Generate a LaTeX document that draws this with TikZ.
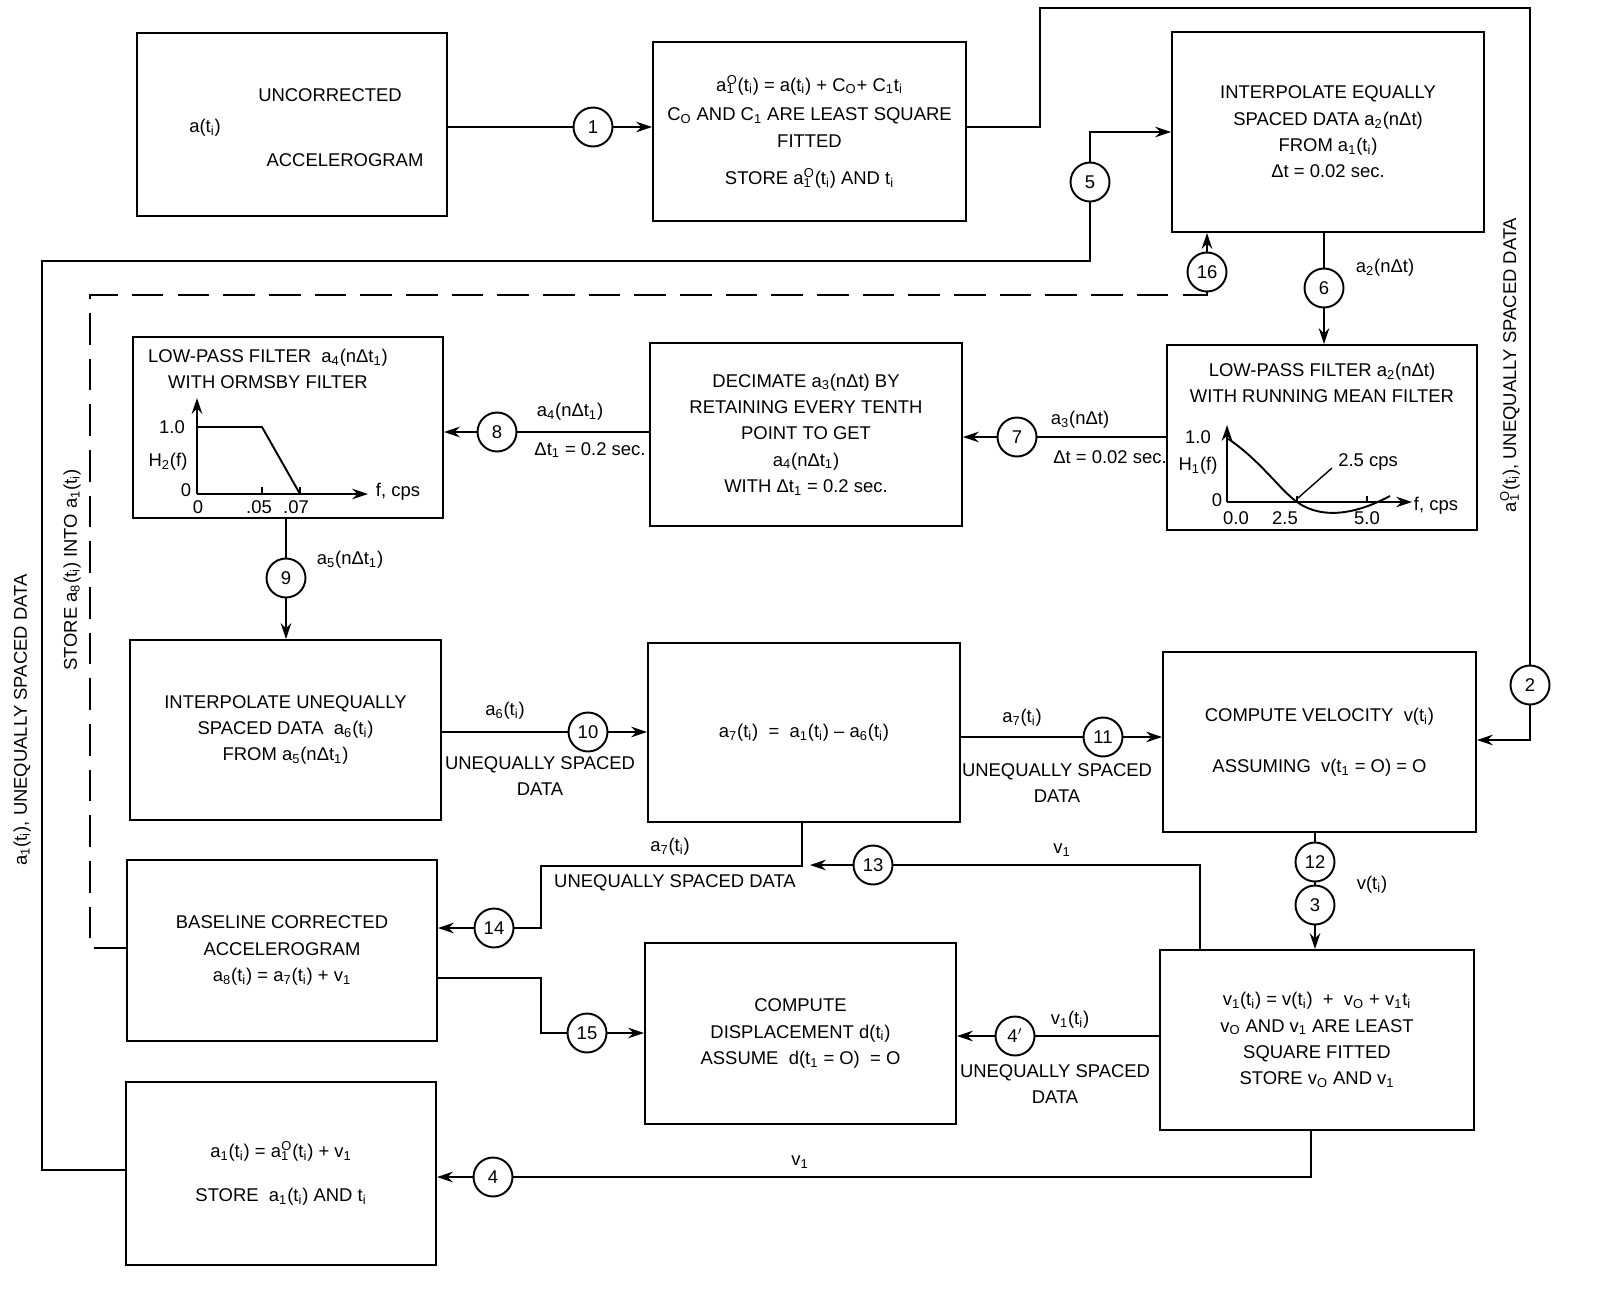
\documentclass[tikz,border=0pt]{standalone}
\usepackage{fontspec}
\setmainfont{Liberation Sans}
\usetikzlibrary{arrows.meta}
\newcommand{\sbx}[1]{\textsubscript{#1}}
\newcommand{\ao}{a\textsubscript{1}\kern-0.42em\textsuperscript{O}}
\begin{document}
\begin{tikzpicture}[x=0.02cm,y=-0.02cm,
  every node/.style={font=\fontsize{10.5}{15}\selectfont},
  box/.style 2 args={draw,line width=1.1pt,minimum width=#1*0.02cm,minimum height=#2*0.02cm,align=center,inner sep=2pt},
  cir/.style={draw,circle,line width=1.1pt,minimum size=0.78cm,inner sep=0pt},
  ln/.style={line width=1.1pt},
  ar/.style={line width=1.1pt,-{Stealth[length=9pt,width=6pt]}},
  lab/.style={inner sep=1pt,align=center}]
\useasboundingbox (0,0) rectangle (1598,1295);
% boxes
\node[box={310}{183}] (B1) at (292,124.5) {};
\node (t1a) at (205,128) {a(t\sbx{i})};
\node (t1b) at (330,95) {UNCORRECTED};
\node (t1c) at (345,160) {ACCELEROGRAM};
\node[box={313}{179}] (B2) at (809.5,131.5) {\ao(t\sbx{i}) = a(t\sbx{i}) + C\sbx{O}+ C\sbx{1}t\sbx{i}\\[2pt] C\sbx{O} AND C\sbx{1} ARE LEAST SQUARE\\ FITTED\\[6pt] STORE \ao(t\sbx{i}) AND t\sbx{i}};
\node[box={312}{200}] (B3) at (1328,132) {INTERPOLATE EQUALLY\\ SPACED DATA a\sbx{2}(nΔt)\\ FROM a\sbx{1}(t\sbx{i})\\ Δt = 0.02 sec.};
\node[box={310}{185}] (B4) at (1322,437.5) {};
\node[lab] (t4) at (1322,383) {LOW-PASS FILTER a\sbx{2}(nΔt)\\ WITH RUNNING MEAN FILTER};
\node[box={312}{183}] (B5) at (806,434.5) {DECIMATE a\sbx{3}(nΔt) BY\\ RETAINING EVERY TENTH\\ POINT TO GET\\ a\sbx{4}(nΔt\sbx{1})\\ WITH Δt\sbx{1} = 0.2 sec.};
\node[box={310}{181}] (B6) at (288,427.5) {};
\node[lab] (t6) at (268,369) {LOW-PASS FILTER\ \ a\sbx{4}(nΔt\sbx{1})\\ WITH ORMSBY FILTER};
\node[box={311}{180}] (B7) at (285.5,730) {INTERPOLATE UNEQUALLY\\ SPACED DATA\ \ a\sbx{6}(t\sbx{i})\\ FROM a\sbx{5}(nΔt\sbx{1})};
\node[box={312}{179}] (B8) at (804,732.5) {a\sbx{7}(t\sbx{i})\ \ =\ \ a\sbx{1}(t\sbx{i}) -- a\sbx{6}(t\sbx{i})};
\node[box={313}{180}] (B9) at (1319.5,742) {COMPUTE VELOCITY\ \ v(t\sbx{i})\\[14pt] ASSUMING\ \ v(t\sbx{1} = O) = O};
\node[box={310}{181}] (B10) at (282,950.5) {BASELINE CORRECTED\\ ACCELEROGRAM\\ a\sbx{8}(t\sbx{i}) = a\sbx{7}(t\sbx{i}) + v\sbx{1}};
\node[box={311}{181}] (B11) at (800.5,1033.5) {COMPUTE\\ DISPLACEMENT d(t\sbx{i})\\ ASSUME\ \ d(t\sbx{1} = O)\ \ = O};
\node[box={314}{180}] (B12) at (1317,1040) {v\sbx{1}(t\sbx{i}) = v(t\sbx{i})\ \ +\ \ v\sbx{O} + v\sbx{1}t\sbx{i}\\ v\sbx{O} AND v\sbx{1} ARE LEAST\\ SQUARE FITTED\\ STORE v\sbx{O} AND v\sbx{1}};
\node[box={310}{183}] (B13) at (281,1173.5) {a\sbx{1}(t\sbx{i}) = \ao(t\sbx{i}) + v\sbx{1}\\[10pt] STORE\ \ a\sbx{1}(t\sbx{i}) AND t\sbx{i}};
% circles
\node[cir] (c1) at (593,127) {1};
\node[cir] (c2) at (1530,685) {2};
\node[cir] (c3) at (1315,905) {3};
\node[cir] (c4) at (493,1177) {4};
\node[cir] (c4p) at (1015,1036) {4$'$};
\node[cir] (c5) at (1090,182) {5};
\node[cir] (c6) at (1324,288) {6};
\node[cir] (c7) at (1017,437) {7};
\node[cir] (c8) at (497,432) {8};
\node[cir] (c9) at (286,578) {9};
\node[cir] (c10) at (588,732) {10};
\node[cir] (c11) at (1103,737) {11};
\node[cir] (c12) at (1315,862) {12};
\node[cir] (c13) at (873,865) {13};
\node[cir] (c14) at (494,928) {14};
\node[cir] (c15) at (587,1033) {15};
\node[cir] (c16) at (1207,272) {16};
% coordinates
\coordinate (p2a) at (1040,127);
\coordinate (p2b) at (1040,8);
\coordinate (p2c) at (1530,8);
\coordinate (p2d) at (1530,740);
\coordinate (p5a) at (42,1170);
\coordinate (p5b) at (42,261);
\coordinate (p5c) at (1090,261);
\coordinate (p5d) at (1090,132);
\coordinate (d1) at (90,948);
\coordinate (d2) at (90,295);
\coordinate (d3) at (1207,295);
\coordinate (p13a) at (1200,950);
\coordinate (p13b) at (1200,865);
\coordinate (p13c) at (810,865);
\coordinate (p14a) at (802,866);
\coordinate (p14b) at (541,866);
\coordinate (p14c) at (541,928);
\coordinate (p15a) at (437,978);
\coordinate (p15b) at (541,978);
\coordinate (p15c) at (541,1033);
\coordinate (p4a) at (1311,1177);
% connectors
\draw[ln] (B1.east|-c1) -- (c1); \draw[ar] (c1) -- (B2.west|-c1);
\draw[ln] (B2.east|-p2a) -- (p2a) -- (p2b) -- (p2c) -- (c2); \draw[ar] (c2) -- (p2d) -- (B9.east|-p2d);
\draw[ln] (B13.west|-p5a) -- (p5a) -- (p5b) -- (p5c) -- (c5); \draw[ar] (c5) -- (p5d) -- (B3.west|-p5d);
\draw[ln,dash pattern=on 18pt off 8pt] (B10.west|-d1) -- (d1) -- (d2) -- (d3) -- (c16);
\draw[ar] (c16) -- (B3.south-|c16);
\draw[ln] (B3.south-|c6) -- (c6); \draw[ar] (c6) -- (B4.north-|c6);
\draw[ln] (B4.west|-c7) -- (c7); \draw[ar] (c7) -- (B5.east|-c7);
\draw[ln] (B5.west|-c8) -- (c8); \draw[ar] (c8) -- (B6.east|-c8);
\draw[ln] (B6.south-|c9) -- (c9); \draw[ar] (c9) -- (B7.north-|c9);
\draw[ln] (B7.east|-c10) -- (c10); \draw[ar] (c10) -- (B8.west|-c10);
\draw[ln] (B8.east|-c11) -- (c11); \draw[ar] (c11) -- (B9.west|-c11);
\draw[ln] (B9.south-|c12) -- (c12) -- (c3); \draw[ar] (c3) -- (B12.north-|c3);
\draw[ln] (p13a) -- (p13b) -- (c13); \draw[ar] (c13) -- (p13c);
\draw[ln] (B8.south-|p14a) -- (p14a) -- (p14b) -- (p14c) -- (c14); \draw[ar] (c14) -- (B10.east|-c14);
\draw[ln] (p15a) -- (p15b) -- (p15c) -- (c15); \draw[ar] (c15) -- (B11.west|-c15);
\draw[ln] (B12.west|-c4p) -- (c4p); \draw[ar] (c4p) -- (B11.east|-c4p);
\draw[ln] (B12.south-|p4a) -- (p4a) -- (c4); \draw[ar] (c4) -- (B13.east|-c4);
% labels
\node[lab,rotate=90] (r2) at (1510,365) {\ao(t\sbx{i}), UNEQUALLY SPACED DATA};
\node[lab,rotate=90] (r5) at (22,720) {a\sbx{1}(t\sbx{i}), UNEQUALLY SPACED DATA};
\node[lab,rotate=90] (r16) at (72,570) {STORE a\sbx{8}(t\sbx{i}) INTO a\sbx{1}(t\sbx{i})};
\node[lab] at (1385,268) {a\sbx{2}(nΔt)};
\node[lab] at (1080,420) {a\sbx{3}(nΔt)};
\node[lab] at (1110,457) {Δt = 0.02 sec.};
\node[lab] at (570,412) {a\sbx{4}(nΔt\sbx{1})};
\node[lab] at (590,450) {Δt\sbx{1} = 0.2 sec.};
\node[lab] at (350,560) {a\sbx{5}(nΔt\sbx{1})};
\node[lab] at (505,711) {a\sbx{6}(t\sbx{i})};
\node[lab] at (540,776) {UNEQUALLY SPACED\\ DATA};
\node[lab] at (1022,718) {a\sbx{7}(t\sbx{i})};
\node[lab] at (1057,783) {UNEQUALLY SPACED\\ DATA};
\node[lab] at (1372,885) {v(t\sbx{i})};
\node[lab] at (1062,850) {v\sbx{1}};
\node[lab] at (670,847) {a\sbx{7}(t\sbx{i})};
\node[lab] at (675,883) {UNEQUALLY SPACED DATA};
\node[lab] at (1070,1020) {v\sbx{1}(t\sbx{i})};
\node[lab] at (1055,1084) {UNEQUALLY SPACED\\ DATA};
\node[lab] at (800,1162) {v\sbx{1}};
% Ormsby plot
\draw[ar] (197,494) -- (197,398);
\draw[ar] (197,494) -- (368,494);
\draw[ln] (197,427) -- (262,427) -- (300,494);
\draw[ln] (262,494) -- (262,487) (300,494) -- (300,487);
\node[lab] at (172,427) {1.0};
\node[lab] at (168,462) {H\sbx{2}(f)};
\node[lab] at (186,490) {0};
\node[lab] at (198,507) {0};
\node[lab] at (259,507) {.05};
\node[lab] at (296,507) {.07};
\node[lab] at (398,492) {f, cps};
% running mean plot
\draw[ar] (1227,502) -- (1227,425);
\draw[ar] (1227,502) -- (1412,502);
\draw[ln] (1227,438) .. controls (1260,460) and (1280,490) .. (1297,502) .. controls (1315,515) and (1345,520) .. (1390,496);
\draw[ln] (1297,502) -- (1297,496) (1367,502) -- (1367,496);
\draw[line width=0.8pt] (1332,468) -- (1298,498);
\node[lab] at (1198,437) {1.0};
\node[lab] at (1198,466) {H\sbx{1}(f)};
\node[lab] at (1217,500) {0};
\node[lab] at (1236,518) {0.0};
\node[lab] at (1285,518) {2.5};
\node[lab] at (1367,518) {5.0};
\node[lab] at (1436,506) {f, cps};
\node[lab] at (1368,462) {2.5 cps};
\end{tikzpicture}
\end{document}
